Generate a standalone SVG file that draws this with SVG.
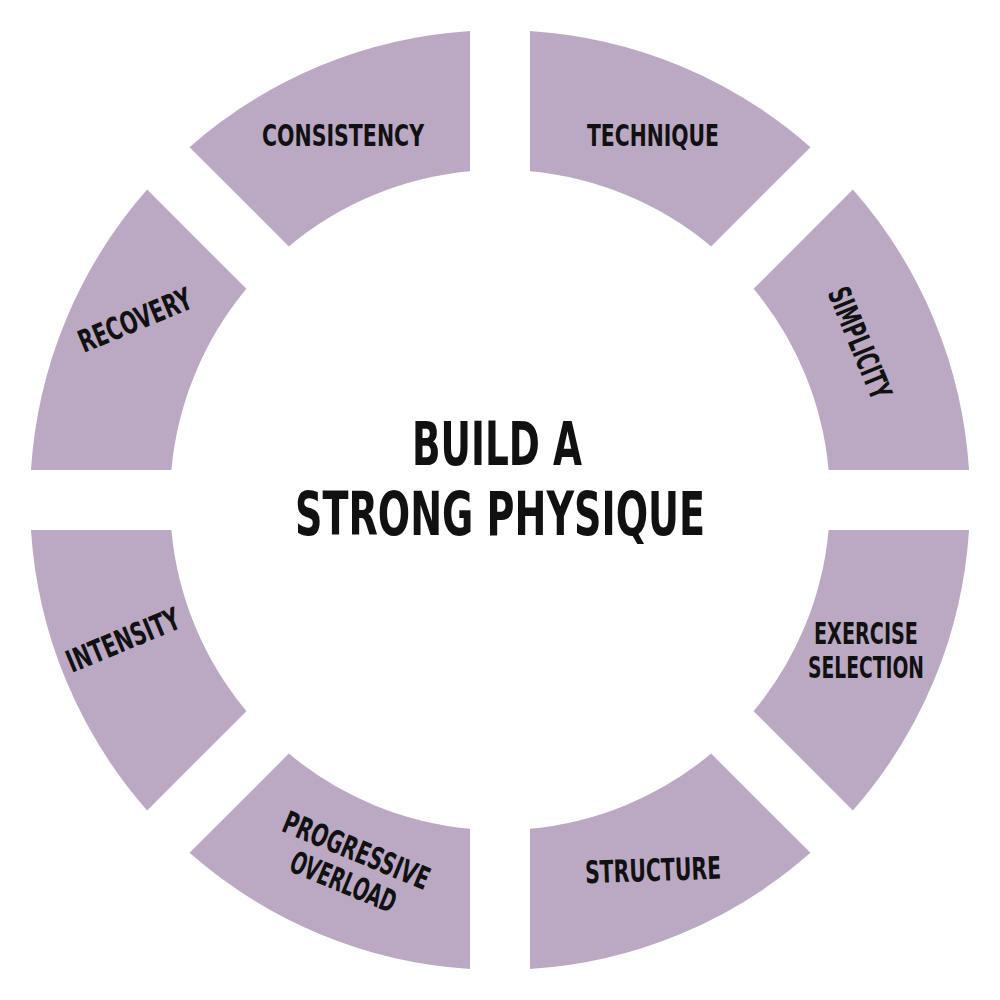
<svg xmlns="http://www.w3.org/2000/svg" width="1000" height="1000" viewBox="0 0 1000 1000">
<style>
.seg{fill:#bba9c4}
.l{font-family:"DejaVu Sans Condensed","DejaVu Sans",sans-serif;font-stretch:condensed;font-weight:bold;font-size:31px;fill:#111;text-anchor:middle;dominant-baseline:central}
.t{font-size:61px}
</style>
<defs><path id="s" d="M530,30.96 A470,470 0 0 1 810.45,147.13 L711.17,246.41 A330,330 0 0 0 530,171.37 Z"/></defs>
<rect width="1000" height="1000" fill="#fff"/>
<g id="seg-technique"><use href="#s" class="seg"/><text class="l" x="653" y="135" textLength="132" lengthAdjust="spacingAndGlyphs">TECHNIQUE</text></g>
<g id="seg-simplicity"><use href="#s" class="seg" transform="rotate(45 500 500)"/><text class="l" transform="translate(860,343) rotate(67.5)" textLength="118" lengthAdjust="spacingAndGlyphs">SIMPLICITY</text></g>
<g id="seg-exercise"><use href="#s" class="seg" transform="rotate(90 500 500)"/><text class="l" x="866" y="633" textLength="104" lengthAdjust="spacingAndGlyphs">EXERCISE</text><text class="l" x="866" y="667" textLength="116" lengthAdjust="spacingAndGlyphs">SELECTION</text></g>
<g id="seg-structure"><use href="#s" class="seg" transform="rotate(135 500 500)"/><text class="l" transform="translate(653,870) rotate(-2)" textLength="136" lengthAdjust="spacingAndGlyphs">STRUCTURE</text></g>
<g id="seg-progressive"><use href="#s" class="seg" transform="rotate(180 500 500)"/><g transform="translate(350,866) rotate(22.5)"><text class="l" x="0" y="-17" textLength="156" lengthAdjust="spacingAndGlyphs">PROGRESSIVE</text><text class="l" x="0" y="17" textLength="112" lengthAdjust="spacingAndGlyphs">OVERLOAD</text></g></g>
<g id="seg-intensity"><use href="#s" class="seg" transform="rotate(225 500 500)"/><text class="l" transform="translate(123,640) rotate(-22.5)" textLength="120" lengthAdjust="spacingAndGlyphs">INTENSITY</text></g>
<g id="seg-recovery"><use href="#s" class="seg" transform="rotate(270 500 500)"/><text class="l" transform="translate(135,320) rotate(-22.5)" textLength="120" lengthAdjust="spacingAndGlyphs">RECOVERY</text></g>
<g id="seg-consistency"><use href="#s" class="seg" transform="rotate(315 500 500)"/><text class="l" x="343" y="135" textLength="162" lengthAdjust="spacingAndGlyphs">CONSISTENCY</text></g>
<g id="center"><text class="l t" x="497" y="443" textLength="170" lengthAdjust="spacingAndGlyphs">BUILD A</text><text class="l t" x="500" y="513" textLength="410" lengthAdjust="spacingAndGlyphs">STRONG PHYSIQUE</text></g>
</svg>
